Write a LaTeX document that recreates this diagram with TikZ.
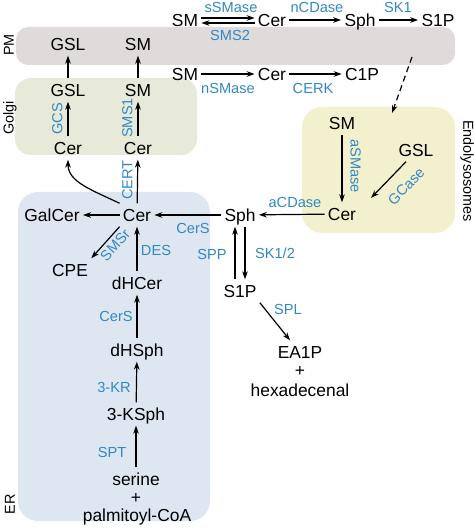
\documentclass[tikz,border=0pt]{standalone}
\usepackage{fontspec}
\setmainfont{Liberation Sans}
\usetikzlibrary{arrows.meta}

\definecolor{pmgray}{RGB}{223,219,219}
\definecolor{golgigreen}{RGB}{231,234,217}
\definecolor{endoyellow}{RGB}{243,240,206}
\definecolor{erblue}{RGB}{222,231,241}
\definecolor{enzblue}{RGB}{50,136,196}

\begin{document}
\begin{tikzpicture}[x=0.5pt, y=-0.5pt,
        met/.style={font=\fontsize{8.7}{10}\selectfont, inner xsep=1.5pt, inner ysep=2.5pt, text height=6.3pt, text depth=0pt},
        enz/.style={font=\fontsize{7.3}{8.5}\selectfont, text=enzblue, inner sep=1pt, text height=5.3pt, text depth=0pt},
        comp/.style={font=\fontsize{7.2}{8.5}\selectfont, inner sep=1pt},
        arr/.style={-{Stealth[length=4pt, width=2.8pt]}, line width=0.6pt}]
        \useasboundingbox (0,0) rectangle (474,529);

        % compartments
        \fill[pmgray, rounded corners=6pt] (16,27) rectangle (455,65);
        \fill[golgigreen, rounded corners=8pt] (15,78) rectangle (197,155);
        \fill[endoyellow, rounded corners=10pt] (302,107) rectangle (455,233);
        \fill[erblue, rounded corners=10pt] (18,192) rectangle (210,521);

        \node[comp, rotate=90] (pm) at (9,45) {PM};
        \node[comp, rotate=90] (golgi) at (10,118) {Golgi};
        \node[comp, rotate=90] (er) at (10,504) {ER};
        \node[comp, rotate=-90] (endo) at (467,171) {Endolysosomes};

        % plasma membrane
        \node[met] (smA) at (185,20) {SM};
        \node[met] (cerA) at (272,20) {Cer};
        \node[met] (sphA) at (360,20) {Sph};
        \node[met] (sopA) at (438,20) {S1P};
        \node[met] (gslPM) at (68,44) {GSL};
        \node[met] (smPM) at (138,44) {SM};
        \node[met] (smB) at (185,74) {SM};
        \node[met] (cerB) at (272,74) {Cer};
        \node[met] (cop) at (362,74) {C1P};

        \draw[arr] ([yshift=1pt]smA.east) -- ([yshift=1pt]cerA.west);
        \draw[arr] ([yshift=-1.5pt]cerA.west) -- ([yshift=-1.5pt]smA.east);
        \draw[arr] (cerA) -- (sphA);
        \draw[arr] (sphA) -- (sopA);
        \draw[arr] (smB) -- (cerB);
        \draw[arr] (cerB) -- (cop);

        \node[enz] (ssmase) at (231,7) {sSMase};
        \node[enz] (sms2) at (230,35) {SMS2};
        \node[enz] (ncdase) at (317,7) {nCDase};
        \node[enz] (sk1) at (398,7) {SK1};
        \node[enz] (nsmase) at (228,88) {nSMase};
        \node[enz] (cerk) at (313,88) {CERK};

        % Golgi
        \node[met] (gslG) at (68,90) {GSL};
        \node[met] (smG) at (138,90) {SM};
        \node[met] (cerG1) at (68,148) {Cer};
        \node[met] (cerG2) at (138,148) {Cer};

        \draw[arr] (cerG1) -- (gslG);
        \draw[arr] (cerG2) -- (smG);
        \draw[arr] (gslG) -- (gslPM);
        \draw[arr] (smG) -- (smPM);

        \node[enz, rotate=90] (gcs) at (57,119) {GCS};
        \node[enz, rotate=90] (sms1) at (127,118) {SMS1};

        % endolysosomes
        \coordinate (dashA) at (412,57);
        \coordinate (dashB) at (392,113);
        \draw[arr, dash pattern=on 3pt off 2pt] (dashA) -- (dashB);

        \node[met] (smE) at (342,123) {SM};
        \node[met] (gslE) at (416,150) {GSL};
        \node[met] (cerE) at (342,214) {Cer};
        \coordinate (gcaseEnd) at (371,198);

        \draw[arr] (smE) -- (cerE);
        \draw[arr] ([xshift=-5pt]gslE.south) -- (gcaseEnd);

        \node[enz, rotate=-90] (asmase) at (356,166) {aSMase};
        \node[enz, rotate=46] (gcase) at (406,186) {GCase};
        \node[enz] (acdase) at (295,202) {aCDase};

        % ER
        \node[met] (cerER) at (137,215) {Cer};
        \node[met] (galcer) at (52,215) {GalCer};
        \node[met] (cpe) at (70,270) {CPE};
        \node[met] (dhcer) at (137,283) {dHCer};
        \node[met] (dhsph) at (137,350) {dHSph};
        \node[met] (ksph) at (136,414) {3-KSph};
        \node[met] (serine) at (136,479) {serine};
        \node[met] (plusA) at (136,497) {+};
        \node[met] (palm) at (137,515) {palmitoyl-CoA};
        \node[met] (sph) at (240,215) {Sph};
        \node[met] (sopB) at (240,291) {S1P};
        \node[met] (ea1p) at (300,352) {EA1P};
        \node[met] (plusB) at (300,370) {+};
        \node[met] (hexa) at (300,390) {hexadecenal};

        \draw[arr] (cerE) -- (sph);
        \draw[arr] (sph) -- (cerER);
        \draw[arr] (cerER) -- (galcer);
        \draw[arr] (cerER.south west) -- (cpe.north east);
        \draw[arr] (dhcer) -- (cerER);
        \draw[arr] (dhsph) -- (dhcer);
        \draw[arr] (ksph) -- (dhsph);
        \draw[arr] (serine) -- (ksph);
        \draw[arr] (cerER) -- (cerG2);
        \draw[arr] (cerER.north west) .. controls (92,190) and (68,182) .. (cerG1);
        \draw[arr] ([xshift=-2.5pt]sopB.north) -- ([xshift=-2.5pt]sph.south);
        \draw[arr] ([xshift=2.5pt]sph.south) -- ([xshift=2.5pt]sopB.north);
        \draw[arr] (sopB.south east) -- ([xshift=-5pt]ea1p.north);

        \node[enz, rotate=90] (cert) at (127,180) {CERT};
        \node[enz] (cersA) at (193,228) {CerS};
        \node[enz, rotate=48] (smsr) at (115,245) {SMSr};
        \node[enz] (des) at (156,250) {DES};
        \node[enz] (spp) at (212,254) {SPP};
        \node[enz] (sk12) at (275,253) {SK1/2};
        \node[enz] (spl) at (288,309) {SPL};
        \node[enz] (cersB) at (116,316) {CerS};
        \node[enz] (kr) at (114,387) {3-KR};
        \node[enz] (spt) at (112,452) {SPT};
\end{tikzpicture}
\end{document}
